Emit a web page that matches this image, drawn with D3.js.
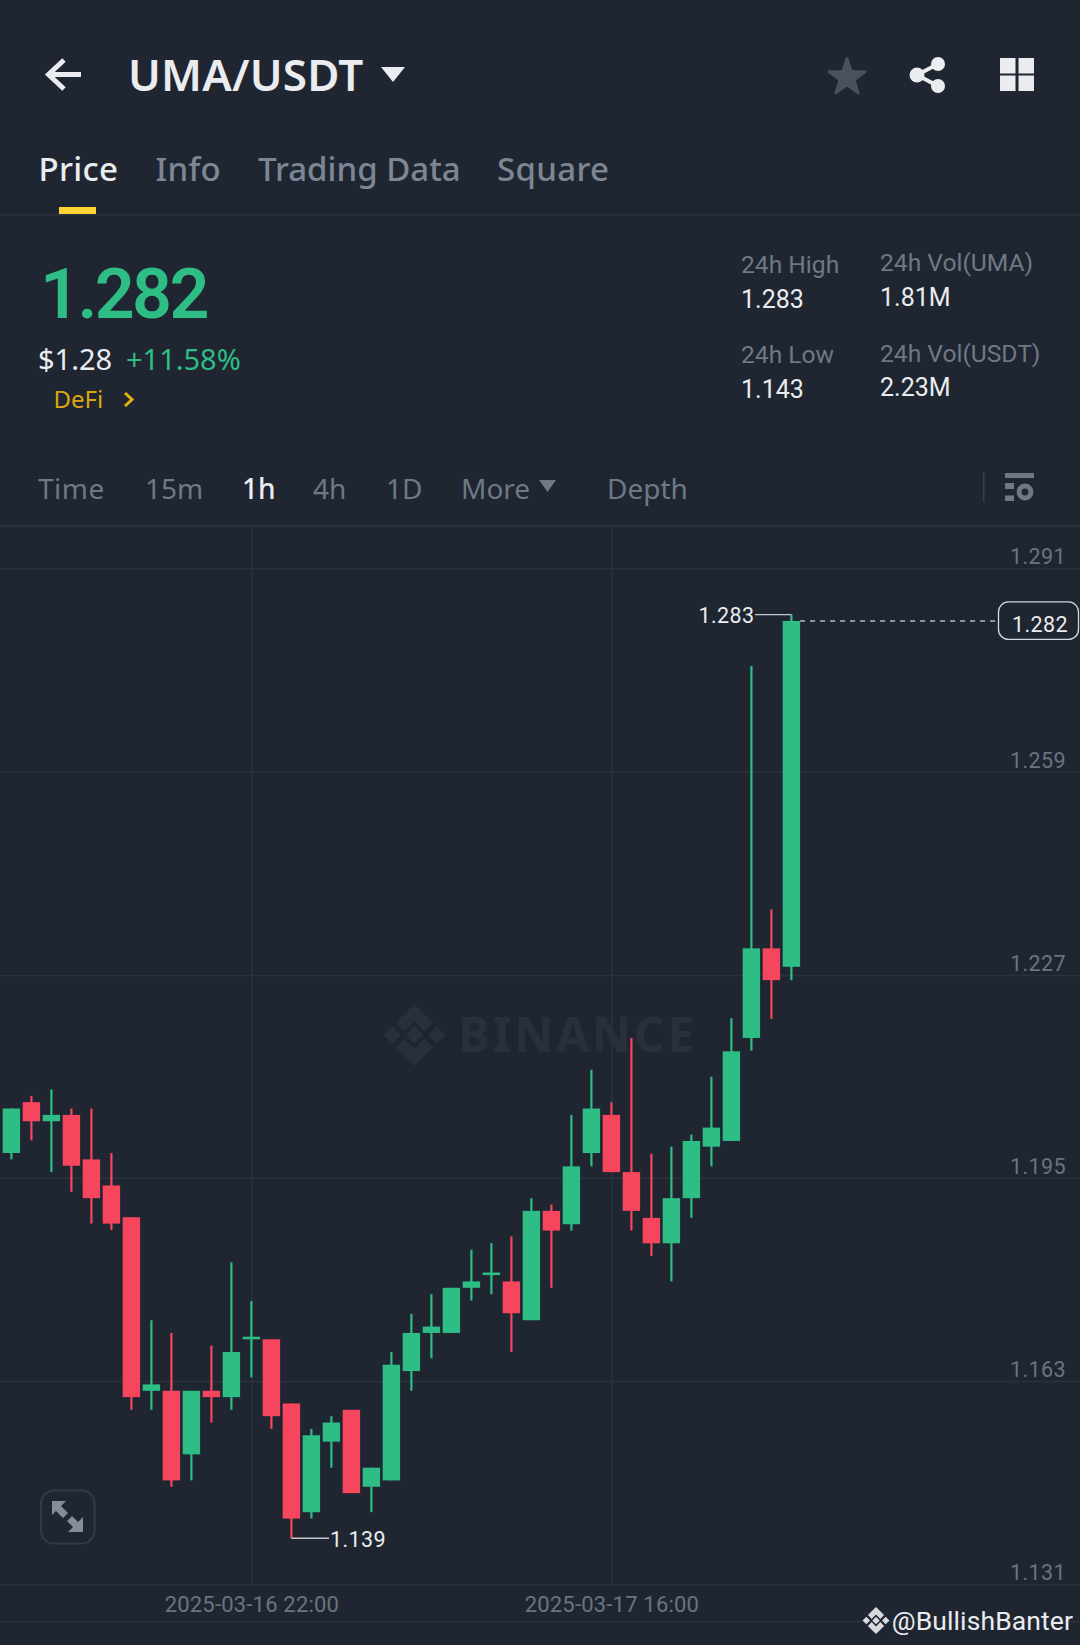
<!DOCTYPE html>
<html>
<head>
<meta charset="utf-8">
<script src="https://cdn.jsdelivr.net/npm/d3@7"></script>
<style>
	html, body { margin: 0; padding: 0; background: #1f2631; }
	svg { display: block; }
	text { font-family: "Noto Sans", sans-serif; }
</style>
</head>
<body>
<div id="viz"></div>
<script>

// hourly candles
var startTime = Date.UTC(2025, 2, 16, 10);
var opens = [1.1990, 1.2070, 1.2040, 1.2050, 1.1980, 1.1939, 1.1889, 1.1616, 1.1616, 1.1516,
	1.1616, 1.1606, 1.1697, 1.1697, 1.1596, 1.1425, 1.1536, 1.1586, 1.1465, 1.1475,
	1.1647, 1.1707, 1.1707, 1.1778, 1.1798, 1.1788, 1.1727, 1.1899, 1.1878, 1.1990,
	1.2050, 1.1960, 1.1888, 1.1848, 1.1919, 1.2000, 1.2009, 1.2171, 1.2312, 1.2283];
var closes = [1.2060, 1.2040, 1.2050, 1.1970, 1.1919, 1.1879, 1.1606, 1.1626, 1.1475, 1.1616,
	1.1606, 1.1677, 1.1701, 1.1576, 1.1415, 1.1546, 1.1566, 1.1455, 1.1495, 1.1657,
	1.1707, 1.1717, 1.1778, 1.1788, 1.1802, 1.1738, 1.1899, 1.1868, 1.1969, 1.2060,
	1.1960, 1.1899, 1.1848, 1.1919, 1.2009, 1.2030, 1.2150, 1.2312, 1.2262, 1.2827];
var highs = [1.2060, 1.2080, 1.2090, 1.2060, 1.2060, 1.1990, 1.1889, 1.1727, 1.1707, 1.1616,
	1.1687, 1.1818, 1.1757, 1.1697, 1.1596, 1.1556, 1.1576, 1.1586, 1.1495, 1.1677,
	1.1737, 1.1768, 1.1778, 1.1838, 1.1848, 1.1859, 1.1919, 1.1909, 1.2050, 1.2121,
	1.2070, 1.2171, 1.1989, 1.2000, 1.2019, 1.2110, 1.2202, 1.2756, 1.2373, 1.2837];
var lows = [1.1980, 1.2010, 1.1960, 1.1929, 1.1879, 1.1869, 1.1586, 1.1586, 1.1465, 1.1475,
	1.1566, 1.1586, 1.1637, 1.1556, 1.1384, 1.1415, 1.1495, 1.1455, 1.1425, 1.1475,
	1.1616, 1.1667, 1.1707, 1.1758, 1.1768, 1.1677, 1.1727, 1.1778, 1.1868, 1.1969,
	1.1960, 1.1868, 1.1828, 1.1788, 1.1888, 1.1969, 1.2009, 1.2151, 1.2201, 1.2262];

// tick prices are not round on the app, the labels are cut to 3 decimals
var priceTicks = [1.29100, 1.25899, 1.22702, 1.19512, 1.16313, 1.13117];
var timeTicks = [Date.UTC(2025, 2, 16, 22), Date.UTC(2025, 2, 17, 16)];

var tabs = ["Price", "Info", "Trading Data", "Square"];
var intervals = ["Time", "15m", "1h", "4h", "1D", "More", "Depth"];

var green = "#2ebd85", red = "#f6465d", bg = "#1f2631", line = "#2c323d";
var white = "#eaecef", grey = "#6f7885";

var width = 1080, height = 1645;

var candles = opens.map(function(o, i) {
	return {
		time: d3.utcHour.offset(new Date(startTime), i),
		open: o, close: closes[i], high: highs[i], low: lows[i]
	};
});

var svg = d3.select("#viz").append("svg")
	.attr("width", width)
	.attr("height", height);

svg.append("rect").attr("width", width).attr("height", height).attr("fill", bg);

function label(txt, x, y, size, fill, weight, spacing, family) {
	var t = svg.append("text")
		.attr("x", x).attr("y", y)
		.attr("font-size", size)
		.attr("font-weight", weight || 400)
		.attr("letter-spacing", spacing || 0)
		.attr("fill", fill)
		.text(txt);
	if (family) t.style("font-family", family);
	return t;
}

// --- header ---
svg.append("path")
	.attr("d", "M81 74.5H49M64 60L48.5 74.5L64 89")
	.attr("fill", "none").attr("stroke", white).attr("stroke-width", 5);
label("UMA/USDT", 128, 91, 44, white, 600, 0.2);
svg.append("path").attr("d", "M381 67H405L393 82Z").attr("fill", white);

svg.append("path")
	.attr("d", d3.symbol(d3.symbolStar, 400))
	.attr("transform", "translate(847,77.5)")
	.attr("fill", "#4a505c")
	.attr("stroke", "#4a505c").attr("stroke-width", 3).attr("stroke-linejoin", "round");

// share icon
svg.append("path")
	.attr("d", "M938 64L917 75L938 86")
	.attr("fill", "none").attr("stroke", white).attr("stroke-width", 4);
[[938, 64, 7], [917, 75, 7.5], [938, 86, 7]].forEach(function(c) {
	svg.append("circle").attr("cx", c[0]).attr("cy", c[1]).attr("r", c[2]).attr("fill", white);
});

// layout icon
[[1000, 58], [1018.5, 58], [1000, 75.5], [1018.5, 75.5]].forEach(function(c) {
	svg.append("rect").attr("x", c[0]).attr("y", c[1]).attr("width", 15.5).attr("height", 15.5).attr("fill", white);
});

// --- tabs ---
var tabX = [38.5, 155.5, 258, 497];
tabs.forEach(function(t, i) {
	label(t, tabX[i], 181, 33, i == 0 ? white : "#7d8694", 500, i == 2 ? 0 : 0.3);
});
svg.append("rect").attr("x", 59).attr("y", 207).attr("width", 37).attr("height", 7).attr("fill", "#fcd535");
svg.append("rect").attr("x", 0).attr("y", 214).attr("width", width).attr("height", 1.5).attr("fill", line);

// --- price block ---
label("1.282", 40, 317.5, 70, green, 600, -2.6, "Roboto");
label("$1.28", 38, 370, 29, white, 400);
label("+11.58%", 126, 370, 29, green, 400);
label("DeFi", 53.5, 408, 24, "#d9a80f", 400);
svg.append("path")
	.attr("d", "M125 393L132 399.5L125 406")
	.attr("fill", "none").attr("stroke", "#e6b00f").attr("stroke-width", 3);

label("24h High", 741, 273, 24.6, grey, 400, 0, "Roboto");
label("1.283", 741, 308, 25, white, 400, 0, "Roboto");
label("24h Low", 741, 363, 24.6, grey, 400, 0, "Roboto");
label("1.143", 741, 398, 25, white, 400, 0, "Roboto");
label("24h Vol(UMA)", 880, 271, 24.6, grey, 400, 0, "Roboto");
label("1.81M", 880, 306, 25, white, 400, 0, "Roboto");
label("24h Vol(USDT)", 880, 361.5, 24.6, grey, 400, 0, "Roboto");
label("2.23M", 880, 396, 25, white, 400, 0, "Roboto");

// --- interval row ---
var intervalX = [38, 145, 242, 313, 386, 461, 607];
intervals.forEach(function(t, i) {
	label(t, intervalX[i], 498.5, 28, i == 2 ? white : grey, i == 2 ? 500 : 400, i == 0 ? 0.5 : 0);
});
svg.append("path").attr("d", "M539 480H556L547.5 492Z").attr("fill", grey);
svg.append("rect").attr("x", 983).attr("y", 472).attr("width", 1.5).attr("height", 30).attr("fill", "#3a404b");
svg.append("path")
	.attr("d", "M1005 473H1034V478H1005ZM1005 483H1014V489H1005ZM1005 495.5H1014V501H1005Z")
	.attr("fill", grey);
svg.append("path")
	.attr("d", d3.symbol(d3.symbolCircle, 110))
	.attr("transform", "translate(1025,492)")
	.attr("fill", "none").attr("stroke", grey).attr("stroke-width", 5);
svg.append("rect").attr("x", 0).attr("y", 525).attr("width", width).attr("height", 2).attr("fill", line);

// --- chart ---
var x = d3.scaleUtc()
	.domain([candles[0].time, candles[candles.length - 1].time])
	.range([11.4, 791.4]);
var y = d3.scaleLinear()
	.domain([1.131, 1.291])
	.range([1585.3, 568.2]);

var bodyWidth = 17.4;
var axisY = y(priceTicks[priceTicks.length - 1]);

svg.append("g")
	.attr("class", "y-axis")
	.call(d3.axisRight(y).tickValues(priceTicks).tickSize(width).tickFormat(d3.format(".3f")))
	.call(function(g) {
		g.select(".domain").remove();
		g.selectAll("line").attr("stroke", line).attr("stroke-width", 1.5);
		g.selectAll("text")
			.attr("x", 1066).attr("dy", -4.5)
			.attr("text-anchor", "end")
			.attr("font-size", 21.5)
			.attr("letter-spacing", 0.4)
			.attr("fill", "#6b7380")
			.style("font-family", "Roboto");
	});

svg.append("g")
	.attr("class", "x-axis")
	.attr("transform", "translate(0," + axisY + ")")
	.call(d3.axisBottom(x).tickValues(timeTicks).tickSize(-(axisY - 526)).tickFormat(d3.utcFormat("%Y-%m-%d %H:%M")))
	.call(function(g) {
		g.select(".domain").remove();
		g.selectAll("line").attr("stroke", line).attr("stroke-width", 1.5);
		g.selectAll("text")
			.attr("y", 27.5).attr("dy", 0)
			.attr("font-size", 22)
			.attr("letter-spacing", 0.2)
			.attr("fill", "#6b7380")
			.style("font-family", "Roboto");
	});

svg.append("rect").attr("x", 0).attr("y", 1621).attr("width", width).attr("height", 1.5).attr("fill", line);

// watermark logo: centre diamond, two side diamonds, two chevrons
function binanceLogo(parent, cx, cy, s, fill) {
	var k = s / 2;
	var d = [
		[[0, -.28], [.28, 0], [0, .28], [-.28, 0]],
		[[-1, 0], [-.72, -.28], [-.44, 0], [-.72, .28]],
		[[1, 0], [.72, -.28], [.44, 0], [.72, .28]],
		[[0, -1], [.6, -.4], [.32, -.12], [0, -.44], [-.32, -.12], [-.6, -.4]],
		[[0, 1], [.6, .4], [.32, .12], [0, .44], [-.32, .12], [-.6, .4]]
	].map(function(p) {
		return "M" + p.map(function(q) { return (cx + q[0] * k) + " " + (cy + q[1] * k); }).join("L") + "Z";
	}).join("");
	parent.append("path").attr("d", d).attr("fill", fill);
}
binanceLogo(svg, 414.5, 1035, 62, "#2a303b");
svg.append("text")
	.attr("x", 458).attr("y", 1052)
	.attr("font-size", 48)
	.attr("font-weight", 700)
	.attr("letter-spacing", 2.8)
	.attr("fill", "#2a303b")
	.text("BINANCE");

svg.append("g").selectAll("line")
	.data(candles)
	.enter()
	.append("line")
	.attr("x1", function(d) { return x(d.time); })
	.attr("x2", function(d) { return x(d.time); })
	.attr("y1", function(d) { return y(d.high); })
	.attr("y2", function(d) { return y(d.low); })
	.attr("stroke", function(d) { return d.close >= d.open ? green : red; })
	.attr("stroke-width", 2.2);

svg.append("g").selectAll("rect")
	.data(candles)
	.enter()
	.append("rect")
	.attr("x", function(d) { return x(d.time) - bodyWidth / 2; })
	.attr("width", bodyWidth)
	.attr("y", function(d) { return y(Math.max(d.open, d.close)); })
	.attr("height", function(d) { return Math.max(2, Math.abs(y(d.open) - y(d.close))); })
	.attr("fill", function(d) { return d.close >= d.open ? green : red; });

// high / low annotations
var last = candles[candles.length - 1];
var lowest = candles[d3.leastIndex(candles, function(d) { return d.low; })];
var highest = candles[d3.greatestIndex(candles, function(d) { return d.high; })];

svg.append("line")
	.attr("x1", 755).attr("x2", x(highest.time))
	.attr("y1", y(highest.high)).attr("y2", y(highest.high))
	.attr("stroke", "#c4c8ce").attr("stroke-width", 1.3);
label("1.283", 698.5, y(highest.high) + 8.5, 21.5, white, 400, 0.4, "Roboto");

svg.append("line")
	.attr("x1", x(lowest.time)).attr("x2", 329)
	.attr("y1", y(lowest.low)).attr("y2", y(lowest.low))
	.attr("stroke", "#c4c8ce").attr("stroke-width", 1.3);
label("1.139", 330, y(lowest.low) + 9, 21.5, white, 400, 0.4, "Roboto");

// last price line and tag
svg.append("line")
	.attr("x1", x(last.time) + bodyWidth / 2).attr("x2", 996)
	.attr("y1", y(last.close)).attr("y2", y(last.close))
	.attr("stroke", "#b4bac3").attr("stroke-width", 1.5)
	.attr("stroke-dasharray", "5 5");
svg.append("rect")
	.attr("x", 998.5).attr("y", y(last.close) - 19)
	.attr("width", 80).attr("height", 37.5)
	.attr("rx", 10)
	.attr("fill", bg).attr("stroke", "#d5d8dc").attr("stroke-width", 1.3);
label("1.282", 1012, y(last.close) + 11, 21.5, white, 400, 0.4, "Roboto");

// expand button
svg.append("rect")
	.attr("x", 41).attr("y", 1490.5)
	.attr("width", 53.5).attr("height", 53).attr("rx", 13)
	.attr("fill", "none").attr("stroke", "#343a45").attr("stroke-width", 2);
svg.append("path")
	.attr("d", "M52 1501H66L61 1506L68 1513L63 1518L56 1511L52 1515Z")
	.attr("fill", "#868d99");
svg.append("path")
	.attr("d", "M83 1532H68L73 1527L67 1521L72 1516L78 1522L83 1517Z")
	.attr("fill", "#868d99");

// watermark bottom right
binanceLogo(svg, 876, 1620.5, 27, "#d8dadd");
label("@BullishBanter", 1073, 1630, 26.5, white, 400, 0.1, "Roboto").attr("text-anchor", "end");

</script>
</body>
</html>
